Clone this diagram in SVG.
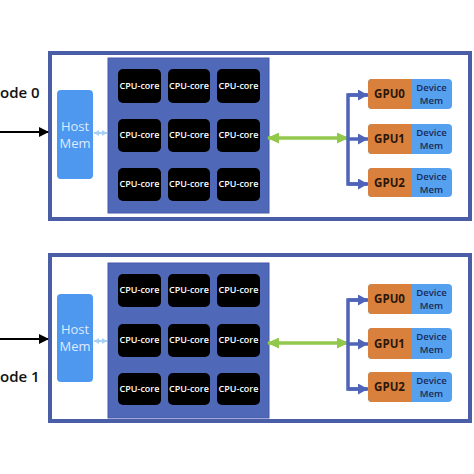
<svg xmlns="http://www.w3.org/2000/svg" width="474" height="474" viewBox="0 0 474 474">
<defs>
<style>
.frame{fill:#ffffff;stroke:#4a5ea8;stroke-width:4}
.panel{fill:#5068b8;stroke:#4459a8;stroke-width:1}
.host{fill:#4e98ef}
.core{fill:#000000}
.gpu{fill:#d9813c}
.dev{fill:#56a0f0}
.ct{font-family:"Open Sans","Liberation Sans",sans-serif;font-size:9px;font-weight:600;fill:#ffffff;text-anchor:middle}
.ht{font-family:"Open Sans","Liberation Sans",sans-serif;font-size:13px;fill:#dfeaff;text-anchor:middle}
.gt{font-family:"Open Sans","Liberation Sans",sans-serif;font-size:11.5px;font-weight:700;fill:#2a1608;text-anchor:middle}
.dt{font-family:"Open Sans","Liberation Sans",sans-serif;font-size:9.5px;font-weight:600;fill:#1a2a55;text-anchor:middle}
.nt{font-family:"Open Sans","Liberation Sans",sans-serif;font-size:15px;font-weight:600;fill:#111111}
.blk{stroke:#000000;stroke-width:2;fill:none}
.lb{stroke:#a8d0f5;stroke-width:2;fill:none}
.gr{stroke:#92c84c;stroke-width:3.5;fill:none}
.br{stroke:#4f64b8;stroke-width:3.5;fill:none}
</style>
<marker id="mBlk" markerUnits="userSpaceOnUse" markerWidth="10" markerHeight="10" refX="9" refY="5" orient="auto"><path d="M0,0 L10,5 L0,10 Z" fill="#000000"/></marker>
<marker id="mLb" markerUnits="userSpaceOnUse" markerWidth="5" markerHeight="6" refX="5" refY="3" orient="auto-start-reverse"><path d="M0,0 L5,3 L0,6 Z" fill="#a8d0f5"/></marker>
<marker id="mGr" markerUnits="userSpaceOnUse" markerWidth="12" markerHeight="11" refX="11" refY="5.5" orient="auto-start-reverse"><path d="M0,0 L12,5.5 L0,11 Z" fill="#92c84c"/></marker>
<marker id="mBr" markerUnits="userSpaceOnUse" markerWidth="10" markerHeight="11" refX="10" refY="5.5" orient="auto"><path d="M0,0 L10,5.5 L0,11 Z" fill="#4f64b8"/></marker>
</defs>
<rect x="0" y="0" width="474" height="474" fill="#ffffff"/>

<!-- Node 0 -->
<g id="node0">
<rect class="frame" x="50" y="53" width="420" height="166"/>
<text class="nt" x="0" y="98">ode 0</text>
<g id="node0-host"><rect class="host" x="57" y="90" width="36" height="89" rx="4"/>
<text class="ht" x="75" y="131">Host</text><text class="ht" x="75" y="148">Mem</text></g>
<g id="node0-cpu">
<rect class="panel" x="108" y="58" width="161" height="155"/>
<rect class="core" x="118" y="69" width="43" height="34" rx="5"/><text class="ct" x="139.5" y="89">CPU-core</text>
<rect class="core" x="168" y="69" width="42" height="34" rx="5"/><text class="ct" x="189" y="89">CPU-core</text>
<rect class="core" x="217" y="69" width="43" height="34" rx="5"/><text class="ct" x="238.5" y="89">CPU-core</text>
<rect class="core" x="118" y="119" width="43" height="33" rx="5"/><text class="ct" x="139.5" y="138">CPU-core</text>
<rect class="core" x="168" y="119" width="42" height="33" rx="5"/><text class="ct" x="189" y="138">CPU-core</text>
<rect class="core" x="217" y="119" width="43" height="33" rx="5"/><text class="ct" x="238.5" y="138">CPU-core</text>
<rect class="core" x="118" y="168" width="43" height="33" rx="5"/><text class="ct" x="139.5" y="187">CPU-core</text>
<rect class="core" x="168" y="168" width="42" height="33" rx="5"/><text class="ct" x="189" y="187">CPU-core</text>
<rect class="core" x="217" y="168" width="43" height="33" rx="5"/><text class="ct" x="238.5" y="187">CPU-core</text>
</g>
<g id="node0-gpu0"><rect class="dev" x="368" y="79" width="84" height="30" rx="4"/><path class="gpu" d="M372,79 H411 V109 H372 A4,4 0 0 1 368,105 V83 A4,4 0 0 1 372,79 Z"/>
<text class="gt" x="389.5" y="98">GPU0</text><text class="dt" x="431.5" y="91">Device</text><text class="dt" x="431.5" y="104">Mem</text></g>
<g id="node0-gpu1"><rect class="dev" x="368" y="124" width="84" height="30" rx="4"/><path class="gpu" d="M372,124 H411 V154 H372 A4,4 0 0 1 368,150 V128 A4,4 0 0 1 372,124 Z"/>
<text class="gt" x="389.5" y="143">GPU1</text><text class="dt" x="431.5" y="136">Device</text><text class="dt" x="431.5" y="149">Mem</text></g>
<g id="node0-gpu2"><rect class="dev" x="368" y="168" width="84" height="29" rx="4"/><path class="gpu" d="M372,168 H411 V197 H372 A4,4 0 0 1 368,193 V172 A4,4 0 0 1 372,168 Z"/>
<text class="gt" x="389.5" y="187">GPU2</text><text class="dt" x="431.5" y="180">Device</text><text class="dt" x="431.5" y="193">Mem</text></g>
</g>

<!-- Node 1 -->
<g id="node1">
<rect class="frame" x="50" y="255" width="420" height="166"/>
<text class="nt" x="0" y="382">ode 1</text>
<g id="node1-host"><rect class="host" x="57" y="294" width="36" height="88" rx="4"/>
<text class="ht" x="75" y="334">Host</text><text class="ht" x="75" y="351">Mem</text></g>
<g id="node1-cpu">
<rect class="panel" x="108" y="263" width="161" height="155"/>
<rect class="core" x="118" y="274" width="43" height="33" rx="5"/><text class="ct" x="139.5" y="293">CPU-core</text>
<rect class="core" x="168" y="274" width="42" height="33" rx="5"/><text class="ct" x="189" y="293">CPU-core</text>
<rect class="core" x="217" y="274" width="43" height="33" rx="5"/><text class="ct" x="238.5" y="293">CPU-core</text>
<rect class="core" x="118" y="324" width="43" height="33" rx="5"/><text class="ct" x="139.5" y="343">CPU-core</text>
<rect class="core" x="168" y="324" width="42" height="33" rx="5"/><text class="ct" x="189" y="343">CPU-core</text>
<rect class="core" x="217" y="324" width="43" height="33" rx="5"/><text class="ct" x="238.5" y="343">CPU-core</text>
<rect class="core" x="118" y="373" width="43" height="32" rx="5"/><text class="ct" x="139.5" y="392">CPU-core</text>
<rect class="core" x="168" y="373" width="42" height="32" rx="5"/><text class="ct" x="189" y="392">CPU-core</text>
<rect class="core" x="217" y="373" width="43" height="32" rx="5"/><text class="ct" x="238.5" y="392">CPU-core</text>
</g>
<g id="node1-gpu0"><rect class="dev" x="368" y="284" width="84" height="30" rx="4"/><path class="gpu" d="M372,284 H411 V314 H372 A4,4 0 0 1 368,310 V288 A4,4 0 0 1 372,284 Z"/>
<text class="gt" x="389.5" y="303">GPU0</text><text class="dt" x="431.5" y="296">Device</text><text class="dt" x="431.5" y="309">Mem</text></g>
<g id="node1-gpu1"><rect class="dev" x="368" y="328" width="84" height="31" rx="4"/><path class="gpu" d="M372,328 H411 V359 H372 A4,4 0 0 1 368,355 V332 A4,4 0 0 1 372,328 Z"/>
<text class="gt" x="389.5" y="348">GPU1</text><text class="dt" x="431.5" y="340">Device</text><text class="dt" x="431.5" y="353">Mem</text></g>
<g id="node1-gpu2"><rect class="dev" x="368" y="372" width="84" height="30" rx="4"/><path class="gpu" d="M372,372 H411 V402 H372 A4,4 0 0 1 368,398 V376 A4,4 0 0 1 372,372 Z"/>
<text class="gt" x="389.5" y="391">GPU2</text><text class="dt" x="431.5" y="384">Device</text><text class="dt" x="431.5" y="397">Mem</text></g>
</g>

<g id="connectors">
<line class="blk" x1="0" y1="132" x2="48" y2="132" marker-end="url(#mBlk)"/>
<line class="lb" x1="94" y1="133" x2="107" y2="133" marker-start="url(#mLb)" marker-end="url(#mLb)"/>
<line class="gr" x1="268" y1="138" x2="348" y2="138" marker-start="url(#mGr)" marker-end="url(#mGr)"/>
<path class="br" d="M367,95 H348 V184 H367"/>
<path class="br" d="M348,95 H368" marker-end="url(#mBr)"/>
<path class="br" d="M348,139 H368" marker-end="url(#mBr)"/>
<path class="br" d="M348,184 H368" marker-end="url(#mBr)"/>

<line class="blk" x1="0" y1="339" x2="48" y2="339" marker-end="url(#mBlk)"/>
<line class="lb" x1="94" y1="341" x2="107" y2="341" marker-start="url(#mLb)" marker-end="url(#mLb)"/>
<line class="gr" x1="268" y1="343" x2="348" y2="343" marker-start="url(#mGr)" marker-end="url(#mGr)"/>
<path class="br" d="M367,300 H348 V389 H367"/>
<path class="br" d="M348,300 H368" marker-end="url(#mBr)"/>
<path class="br" d="M348,344 H368" marker-end="url(#mBr)"/>
<path class="br" d="M348,389 H368" marker-end="url(#mBr)"/>
</g>
</svg>
